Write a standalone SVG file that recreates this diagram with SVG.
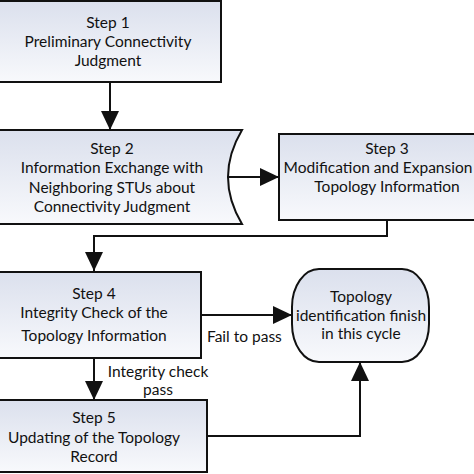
<svg xmlns="http://www.w3.org/2000/svg" width="474" height="474" viewBox="0 0 474 474">
<defs>
<linearGradient id="g" x1="0" y1="0" x2="0" y2="1">
<stop offset="0" stop-color="#dbe0ed"/>
<stop offset="1" stop-color="#f8f9fc"/>
</linearGradient>
<marker id="ah" markerUnits="userSpaceOnUse" markerWidth="19" markerHeight="18" refX="19" refY="9" orient="auto">
<path d="M0,0 L19,9 L0,18 Z" fill="#111"/>
</marker>
</defs>
<style>
.box{fill:url(#g);stroke:#111;stroke-width:2}
.t{font-family:Lato,"Open Sans",sans-serif;font-size:15.5px;fill:#111;text-anchor:middle}
.l{font-family:Lato,"Open Sans",sans-serif;font-size:15.5px;fill:#111}
.c{fill:none;stroke:#111;stroke-width:2;marker-end:url(#ah)}
</style>
<rect width="474" height="474" fill="#fff"/>
<g id="step1">
<rect class="box" x="-5" y="1" width="226" height="81"/>
<text class="t" x="108" y="28">Step 1</text>
<text class="t" x="108" y="47">Preliminary Connectivity</text>
<text class="t" x="108" y="66">Judgment</text>
</g>
<g id="step2">
<path class="box" d="M-5,130 H242 Q214,177 242,224 H-5 Z"/>
<text class="t" x="112" y="154">Step 2</text>
<text class="t" x="112" y="173">Information Exchange with</text>
<text class="t" x="112" y="193">Neighboring STUs about</text>
<text class="t" x="112" y="212">Connectivity Judgment</text>
</g>
<g id="step3">
<rect class="box" x="279" y="134" width="205" height="86"/>
<text class="t" x="387" y="154">Step 3</text>
<text class="t" x="387" y="173">Modification and Expansion of</text>
<text class="t" x="387" y="192">Topology Information</text>
</g>
<g id="step4">
<rect class="box" x="-5" y="272" width="206" height="86"/>
<text class="t" x="94" y="299">Step 4</text>
<text class="t" x="94" y="318">Integrity Check of the</text>
<text class="t" x="94" y="341">Topology Information</text>
</g>
<g id="step5">
<rect class="box" x="-5" y="400" width="212" height="72"/>
<text class="t" x="94" y="423">Step 5</text>
<text class="t" x="94" y="443">Updating of the Topology</text>
<text class="t" x="94" y="462">Record</text>
</g>
<g id="finish">
<rect class="box" x="292" y="269" width="137" height="93" rx="27" ry="38"/>
<text class="t" x="361" y="302">Topology</text>
<text class="t" x="361" y="321">identification finish</text>
<text class="t" x="361" y="339">in this cycle</text>
</g>
<g id="connectors">
<path class="c" d="M110,82 V130"/>
<path class="c" d="M228,177 H279"/>
<path class="c" d="M387,220 V236 H94 V271"/>
<path class="c" d="M94,358 V400"/>
<path class="c" d="M201,315 H292"/>
<path class="c" d="M207,436 H360 V362"/>
<text class="t" x="158" y="377">Integrity check</text>
<text class="t" x="158" y="395">pass</text>
<text class="l" x="207" y="342">Fail to pass</text>
</g>
</svg>
